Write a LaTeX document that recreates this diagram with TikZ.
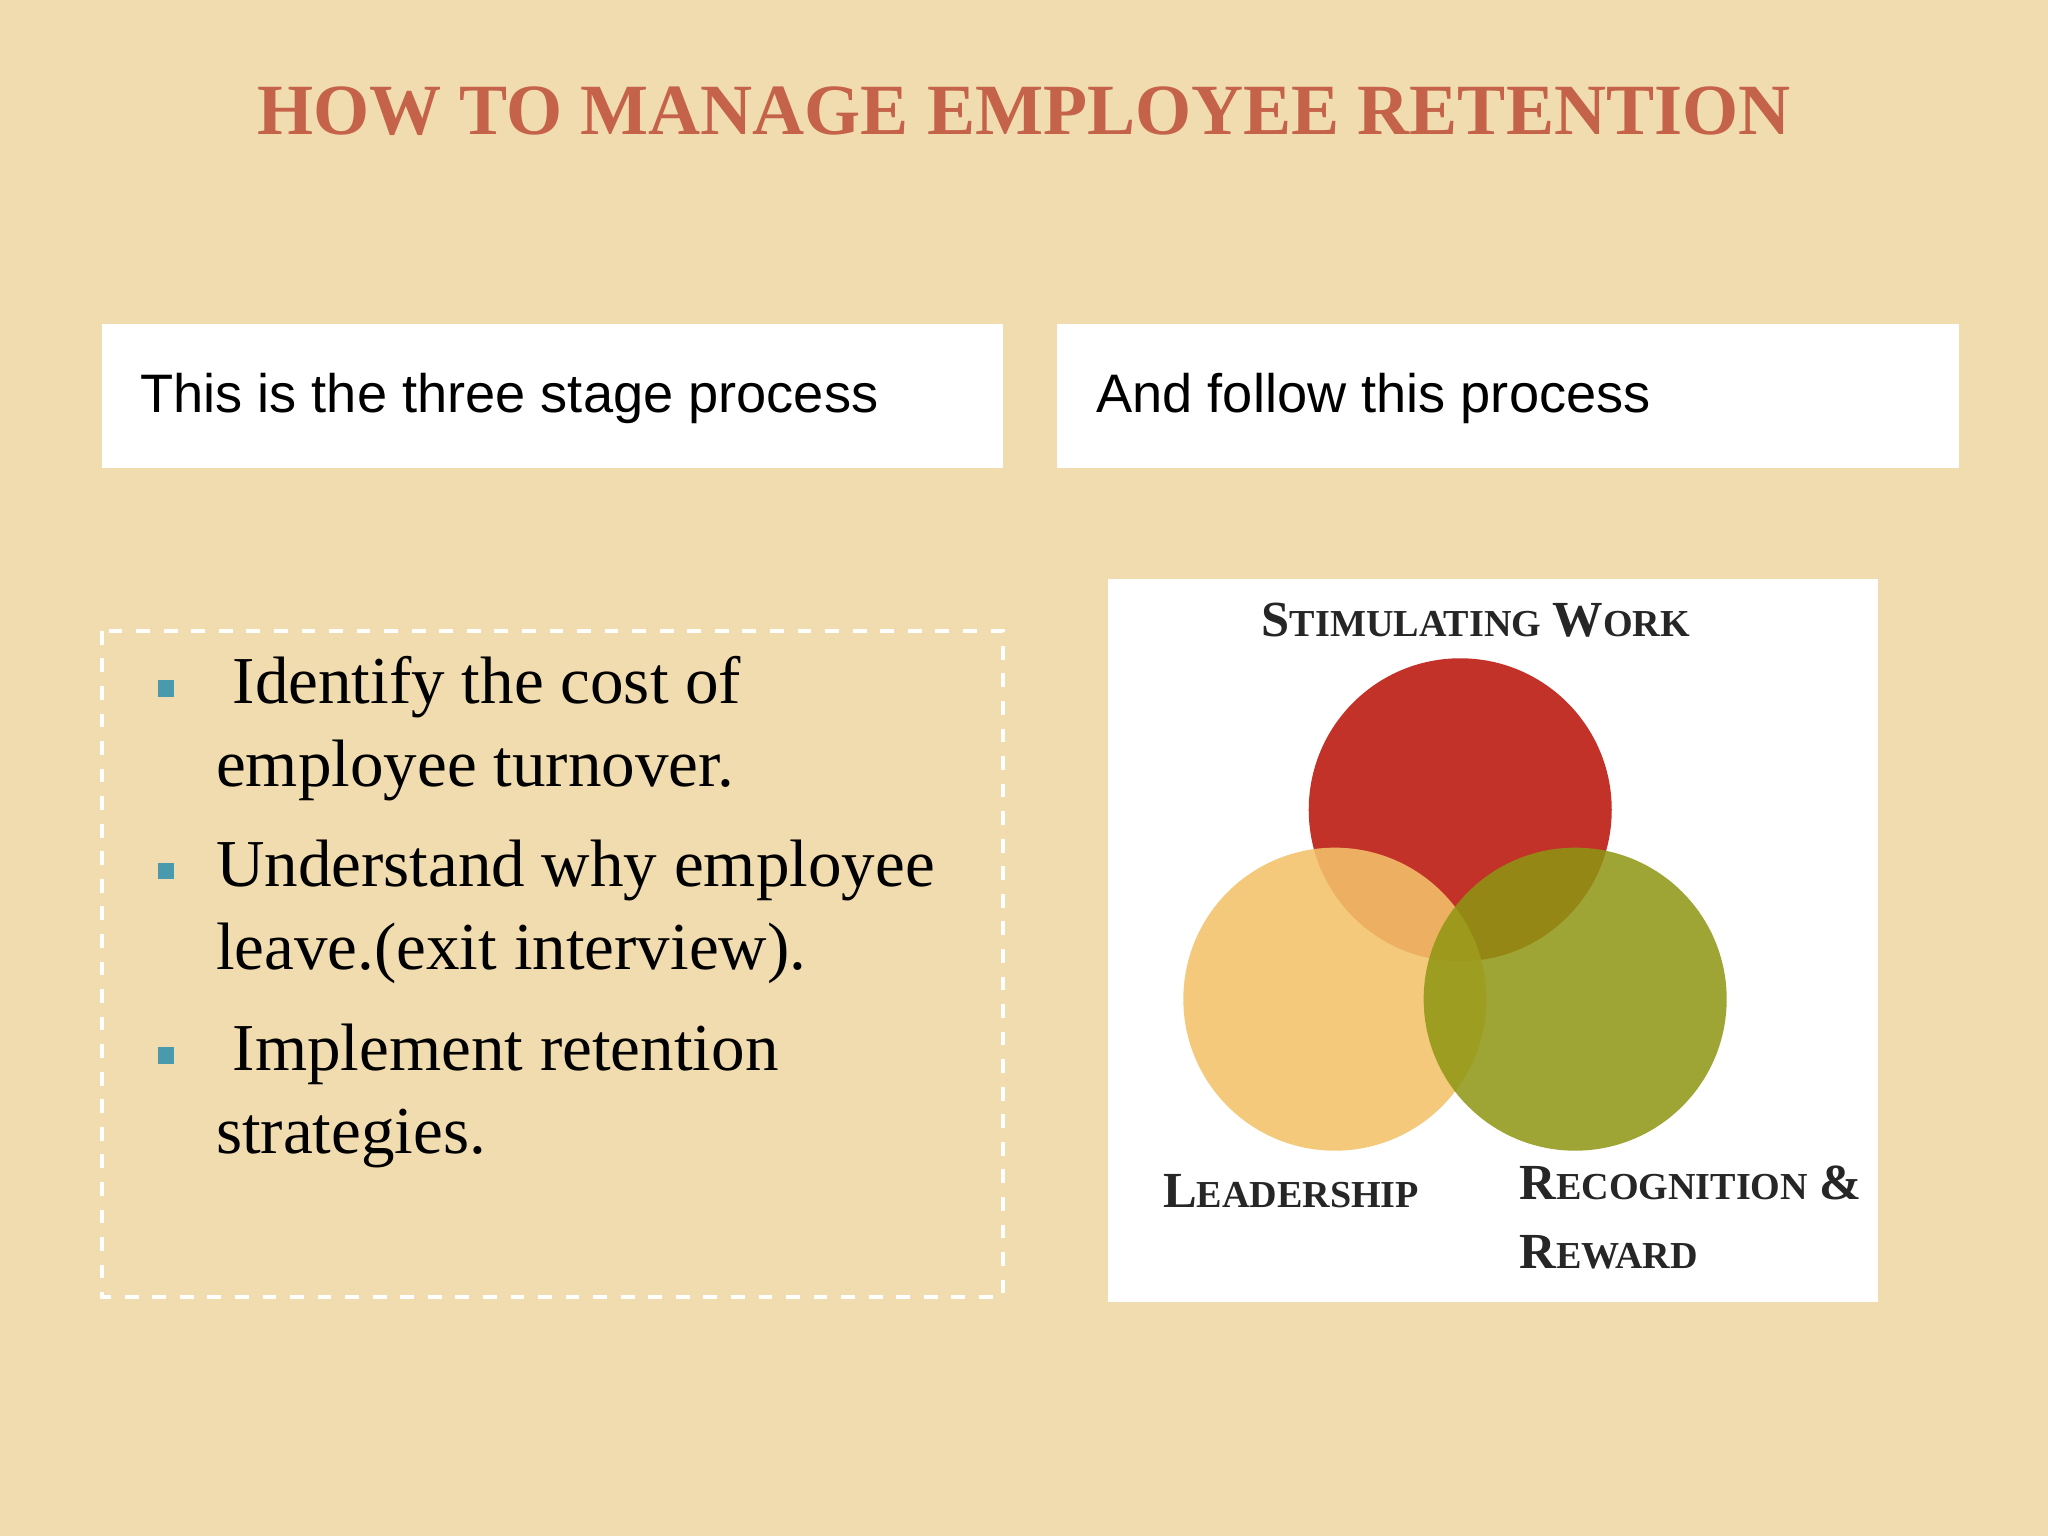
\documentclass[tikz,border=0pt]{standalone}
\usepackage{fontspec}
\setmainfont{Liberation Serif}
\setsansfont{Liberation Sans}
\definecolor{bg}{HTML}{F1DCB0}
\definecolor{ttl}{HTML}{C4634A}
\definecolor{teal}{HTML}{4A9AAE}
\definecolor{cred}{HTML}{C0281E}
\definecolor{cyel}{HTML}{F3C26A}
\definecolor{cgrn}{HTML}{8E9612}
\newcommand{\fsc}[2]{{\fontsize{11}{11}\selectfont #1}{\fontsize{8.3}{8.3}\selectfont #2}}
\begin{document}
\begin{tikzpicture}[x=0.01cm,y=-0.01cm,
  whitebox/.style={fill=white,draw=none},
  hdr/.style={anchor=west,font=\sffamily\fontsize{11.8}{14}\selectfont},
  bul/.style={fill=teal,draw=none,minimum size=3.6pt,inner sep=0pt},
  btxt/.style={anchor=west,align=left,font=\fontsize{14.6}{18}\selectfont},
  lab/.style={font=\bfseries,text=black!85}]
\useasboundingbox (0,0) rectangle (1568,1176);
\fill[bg] (0,0) rectangle (1568,1176);
\node[font=\bfseries\fontsize{15.7}{18}\selectfont,text=ttl] (title) at (784,85) {HOW TO MANAGE EMPLOYEE RETENTION};
\fill[whitebox] (78,248) rectangle (768,358);
\node[hdr] (h1) at (95,305) {This is the three stage process};
\fill[whitebox] (809,248) rectangle (1500,358);
\node[hdr] (h2) at (827,305) {And follow this process};
\draw[white,dashed,line width=0.8pt] (78,483) rectangle (768,993);
\node[bul] (b1) at (127,527) {};
\node[bul] (b2) at (127,667) {};
\node[bul] (b3) at (127,808) {};
\node[btxt] (t1) at (153,558) {\ Identify the cost of\\employee turnover.};
\node[btxt] (t2) at (153,698) {Understand why employee\\leave.(exit interview).};
\node[btxt] (t3) at (153,839) {\ Implement retention\\strategies.};
\fill[white] (848,443) rectangle (1438,997);
\fill[cred,opacity=0.95] (1118,620) circle (116);
\fill[cyel,opacity=0.88] (1022,765) circle (116);
\fill[cgrn,opacity=0.85] (1206,765) circle (116);
\node[lab] (l1) at (1130,475) {\fsc{S}{TIMULATING} \fsc{W}{ORK}};
\node[lab,anchor=west] (l2) at (878,912) {\fsc{L}{EADERSHIP}};
\node[lab,anchor=west,align=left] (l3) at (1151,932) {\fsc{R}{ECOGNITION} \fsc{\&}{}\\[3pt]\fsc{R}{EWARD}};
\end{tikzpicture}
\end{document}
